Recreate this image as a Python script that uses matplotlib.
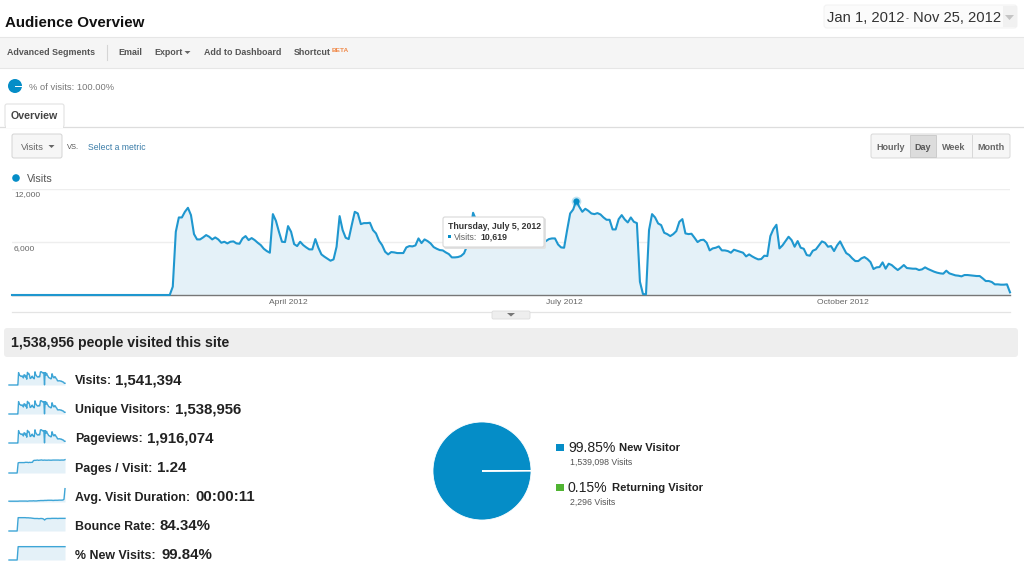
import matplotlib
matplotlib.use("Agg")
import matplotlib.pyplot as plt
from matplotlib.patches import Rectangle, FancyBboxPatch, Circle, Polygon

plt.rcParams['font.family'] = ['Liberation Sans', 'DejaVu Sans']

# ---------- data ----------
visits = [0]*53 + [
 938,7125,8738,8738,9375,9825,9000,6863,6263,6263,6488,6750,6563,6263,6488,6263,5888,6000,5813,6000,
 6038,5813,5775,6375,6638,6188,6413,6188,5888,5625,5213,4950,4763,9113,8363,7125,6000,5963,7763,7125,
 5738,5513,6000,5625,5363,5138,5138,6300,5325,4575,4313,4088,3863,4013,5438,8888,7313,6450,6300,7875,
 9375,9188,7988,8100,8100,8138,7313,6938,6113,5625,4875,4575,4838,4800,4725,4725,4725,5363,5513,5475,
 5588,6375,5850,6263,6075,5813,5400,5213,5063,5025,4800,4613,4238,4238,4275,4388,4688,5513,6938,9263,
 8438,8000,7700,7400,7200,7000,6800,6600,6400,6300,6200,6000,5800,5600,5450,5600,5700,5800,5700,5600,
 5600,5700,5888,6075,6300,6375,6375,5700,5363,5325,7313,9188,9638,10619,9938,9375,9713,9488,9188,9113,
 9225,9075,8738,8475,8475,7388,7388,8550,9000,8513,8175,8738,8250,8100,1500,113,75,7313,9113,8738,
 8063,7875,7013,6863,6638,6863,7200,8250,8550,6938,6863,6900,6450,5963,6188,6225,5888,5025,5250,5325,
 5475,5025,5025,4950,4763,5100,4988,4875,4763,4350,4575,4350,4163,4013,4050,4425,4388,6638,7425,7913,
 5250,5588,6075,6563,6188,5438,6075,5325,5213,4500,4425,4988,5138,5588,6038,5888,5438,5513,4950,5588,
 6038,5363,4725,4500,4125,3825,3825,4125,4275,4050,3713,2925,3113,3150,3675,2963,3525,3375,3075,2813,
 3075,3375,3038,3000,2963,2963,2813,2888,3113,2925,2775,2625,2513,2438,2400,2738,2438,2325,2213,2175,
 2100,2250,2250,2213,2175,2138,2138,1875,1575,1575,1463,1200,1200,1163,1163,1200,300]
month_ticks = [91, 182, 274]
month_labels = ['April 2012', 'July 2012', 'October 2012']
value_ticks = [6000, 12000]
value_labels = ['6,000', '12,000']
peak_day = 186

metric_names = ['Visits:', 'Unique Visitors:', 'Pageviews:', 'Pages / Visit:',
                'Avg. Visit Duration:', 'Bounce Rate:', '% New Visits:']
metric_values = ['1,541,394', '1,538,956', '1,916,074', '1.24', '00:00:11', '84.34%', '99.84%']
pages_spark = [0,0,0,0,0,0,0,0,0,.76,.78,.78,.78,.78,.78,.78,.8,.8,.8,.78,.8,.79,.8,.8,.93,.95,.95,.96,.97,.95,.96,.97,.98,.96,.96,.97,.96,.96,.96,.97,.96,.96,.96,.97,.97,.97,.97,.97,.97,.97,.96,.97,.97,.97,.97,1]
duration_spark = [.06,.06,.06,.06,.06,.06,.06,.06,.06,.06,.07,.07,.07,.07,.07,.07,.07,.07,.06,.07,.08,.08,.08,.08,.09,.08,.08,.08,.09,.1,.1,.11,.11,.11,.11,.12,.12,.12,.13,.13,.13,.13,.13,.12,.12,.13,.13,.13,.13,.14,.14,.14,.14,.15,.2,1]
bounce_spark = [0,0,0,0,0,0,0,0,0,.96,.96,.96,.96,.96,.96,.96,.96,.95,.95,.95,.94,.94,.93,.92,.91,.9,.9,.9,.9,.89,.89,.9,.9,.89,.86,.79,.86,.89,.9,.9,.9,.9,.91,.91,.91,.91,.91,.91,.9,.91,.91,.91,.91,.91,.91,.91]
new_spark = [0]*9 + [1]*47
pie_values = [99.85, 0.15]
pie_colors = ['#058dc7', '#50b432']
pie_pcts = ['99.85%', '0.15%']
pie_names = ['New Visitor', 'Returning Visitor']
pie_visits = ['1,539,098 Visits', '2,296 Visits']

LINE = '#1f97cf'
FILL = '#e4f1f8'
W, H = 1024, 578
fig = plt.figure(figsize=(W/100, H/100), dpi=100, facecolor='white')

def px(size):
    return size*0.72

def rect_axes(x0, y0, x1, y1, **kw):
    return fig.add_axes([x0/W, 1-y1/H, (x1-x0)/W, (y1-y0)/H], **kw)

# ---------- page furniture (pixel coordinates) ----------
ui = fig.add_axes([0, 0, 1, 1], zorder=0)
ui.set_xlim(0, W); ui.set_ylim(H, 0); ui.axis('off')

def t(a, x, y, s, size, color='#333333', weight='normal', ha='left'):
    # y is the visual centre of the digits / capitals
    a.text(x, y+size*0.36, s, fontsize=px(size), color=color, fontweight=weight, ha=ha, va='baseline')

def box(a, x0, y0, x1, y1, fc, ec='none', lw=0.8, r=0, z=1):
    if r:
        a.add_patch(FancyBboxPatch((x0+r, y0+r), x1-x0-2*r, y1-y0-2*r,
                    boxstyle=f'round,pad={r},rounding_size={r}', fc=fc, ec=ec, lw=lw, zorder=z))
    else:
        a.add_patch(Rectangle((x0, y0), x1-x0, y1-y0, fc=fc, ec=ec, lw=lw, zorder=z))

t(ui, 5, 22, 'Audience Overview', 15.1, '#111111', 'bold')

box(ui, 824, 5, 1017, 28, '#fbfbfb', '#f3f3f3', r=3)
box(ui, 1003, 6, 1017, 27, '#f1f1f1')
t(ui, 827, 17, 'Jan 1, 2012', 14.7, '#333333')
t(ui, 906, 18, '-', 9, '#555555')
t(ui, 913, 17, 'Nov 25, 2012', 14.7, '#333333')
ui.add_patch(Polygon([[1005, 15], [1014, 15], [1009.5, 20]], fc='#c4c4c4', ec='none', zorder=2))

box(ui, -3, 37, W+3, 68, '#f5f5f5', '#e6e6e6')
ui.plot([106.5, 106.5], [45, 60], color='#d5d5d5', lw=0.8, zorder=2)
for x, s in [(7, 'Advanced Segments'), (118, 'Email'), (154, 'Export'),
             (204, 'Add to Dashboard'), (294, 'Shortcut')]:
    t(ui, x, 52, s, 8.9, '#555555', 'bold')
t(ui, 332, 50, 'BETA', 6.5, '#f08a4b', 'bold')
ui.add_patch(Polygon([[184.5, 51], [190.5, 51], [187.5, 54]], fc='#666666', ec='none', zorder=2))

ui.add_patch(Circle((15, 86), 7, fc='#058dc7', ec='none', zorder=2))
ui.plot([15, 22], [86, 86], color='white', lw=0.7, zorder=3)
t(ui, 29, 87, '% of visits: 100.00%', 9.4, '#777777')

ui.plot([0, W], [126.5, 126.5], color='#dddddd', lw=0.9, zorder=1)
box(ui, 5, 104, 64, 127, 'white', '#e2e2e2', r=2, z=2)
box(ui, 6, 124, 63, 128, 'white', z=3)
t(ui, 11, 115, 'Overview', 10.6, '#444444', 'bold')

box(ui, 12, 134, 62, 158, '#f6f6f6', '#d4d4d4', lw=0.7, r=2)
t(ui, 21, 147, 'Visits', 9.5, '#666666')
ui.add_patch(Polygon([[48.5, 145], [54.5, 145], [51.5, 148]], fc='#666666', ec='none', zorder=2))
t(ui, 67, 146, 'VS.', 7.5, '#555555')
t(ui, 88, 147, 'Select a metric', 8.6, '#3a7ca8')

box(ui, 871, 134, 1010, 158, '#f6f6f6', '#d8d8d8', lw=0.7, r=2)
box(ui, 910, 135, 936, 157, '#dcdcdc', '#cccccc', lw=0.7, z=2)
ui.plot([971.5, 971.5], [135, 157], color='#d8d8d8', lw=0.7, zorder=2)
for x, s, c in [(890.5, 'Hourly', '#666666'), (922.5, 'Day', '#555555'),
                (953.5, 'Week', '#666666'), (990.5, 'Month', '#666666')]:
    t(ui, x, 147, s, 9.0, c, 'bold', ha='center')

ui.add_patch(Circle((16, 178), 3.8, fc='#058dc7', ec='none', zorder=2))
t(ui, 27, 178.5, 'Visits', 10.8, '#555555')

ui.plot([12, 1010], [311.5, 311.5], color='#e4e4e4', lw=0.9, zorder=1)
box(ui, 492, 311, 530, 319, '#eeeeee', '#dcdcdc', lw=0.6, r=1.5, z=2)
ui.add_patch(Polygon([[507, 313], [515, 313], [511, 316.5]], fc='#777777', ec='none', zorder=3))

box(ui, 4, 328, 1018, 357, '#eeeeee', r=3)
t(ui, 11, 342, '1,538,956 people visited this site', 14.1, '#222222', 'bold')

# ---------- main chart ----------
ax = rect_axes(12, 188.5, 1010, 295, zorder=2)
ax.patch.set_alpha(0)
days = list(range(len(visits)))
ax.set_xlim(0, len(visits)-1)
ax.set_ylim(0, 12000)
ax.fill_between(days, visits, 0, color=FILL, lw=0, zorder=1)
ax.plot(days, visits, color=LINE, lw=1.5, solid_joinstyle='round', zorder=3, clip_on=False)
ax.set_yticks(value_ticks)
ax.set_yticklabels([])
ax.grid(axis='y', color='#eeeeee', lw=1, zorder=0)
ax.set_xticks(month_ticks)
ax.set_xticklabels(month_labels, fontsize=px(8.5), color='#666666')
ax.tick_params(axis='both', length=0)
ax.tick_params(axis='x', pad=3)
for s in ['top', 'left', 'right']:
    ax.spines[s].set_visible(False)
ax.spines['bottom'].set_color('#777777')
ax.spines['bottom'].set_linewidth(1)
ax.set_axisbelow(True)
for v, s in zip(value_ticks, value_labels):
    ax.annotate(s, (0, v), xytext=(2*0.72, -6.5*0.72), textcoords='offset points',
                fontsize=px(8.5), color='#666666', ha='left', va='center')
ax.plot([peak_day], [visits[peak_day]], 'o', ms=7, color='#058dc7', alpha=0.25, mew=0, zorder=4, clip_on=False)
ax.plot([peak_day], [visits[peak_day]], 'o', ms=4.5, color='#058dc7', mec='#058dc7', mew=0, zorder=5, clip_on=False)

# ---------- overlay: tooltip ----------
top = fig.add_axes([0, 0, 1, 1], zorder=5)
top.patch.set_alpha(0)
top.set_xlim(0, W); top.set_ylim(H, 0); top.axis('off')
box(top, 444, 218, 546, 249, '#e2e2e2', r=2)
box(top, 443, 217, 544, 247, 'white', '#d8d8d8', r=2, z=2)
t(top, 447.5, 226, 'Thursday, July 5, 2012', 8.8, '#333333', 'bold')
box(top, 447.5, 234.5, 450.5, 237.5, '#058dc7', z=3)
t(top, 454, 236.5, 'Visits:', 8.8, '#666666')
t(top, 480, 236.5, '10,619', 8.8, '#333333', 'bold')

# ---------- metric rows ----------
rows_y = [379, 408, 437, 467, 496, 525, 554]
value_x = [115, 175, 147, 157, 195, 160, 161]
sampled = visits[::4]
sparks = [sampled, sampled, sampled, pages_spark, duration_spark, bounce_spark, new_spark]
for y, name, val, vx, sp in zip(rows_y, metric_names, metric_values, value_x, sparks):
    s = rect_axes(9, y-8, 65, y+6, zorder=2)
    s.axis('off')
    xs = list(range(len(sp)))
    s.set_xlim(0, len(sp)-1)
    s.set_ylim(0, 1.05*max(sp))
    s.fill_between(xs, sp, 0, color=FILL, lw=0)
    s.plot(xs, sp, color='#3ea5d6', lw=1.0, clip_on=False)
    t(ui, 75, y+0.5, name, 12.4, '#222222', 'bold')
    t(ui, vx, y, val, 15, '#222222', 'bold')

# ---------- pie ----------
pie_ax = rect_axes(432, 421, 532, 521, zorder=2)
pie_ax.pie(pie_values, colors=pie_colors, startangle=0, counterclock=False, radius=1.0,
           wedgeprops=dict(edgecolor='white', linewidth=0.6))
pie_ax.set_xlim(-1.02, 1.02); pie_ax.set_ylim(-1.02, 1.02)

for y, c, pct, nm, vs, nx in zip([447, 487], pie_colors, pie_pcts, pie_names, pie_visits, [619, 612]):
    box(ui, 556, y-3.5, 563.5, y+4, c)
    t(ui, 568, y, pct, 14, '#222222', 'normal')
    t(ui, nx, y, nm, 11.2, '#222222', 'bold')
    t(ui, 570, y+15, vs, 8.8, '#555555')

fig.savefig('out.png', dpi=100, facecolor='white')
